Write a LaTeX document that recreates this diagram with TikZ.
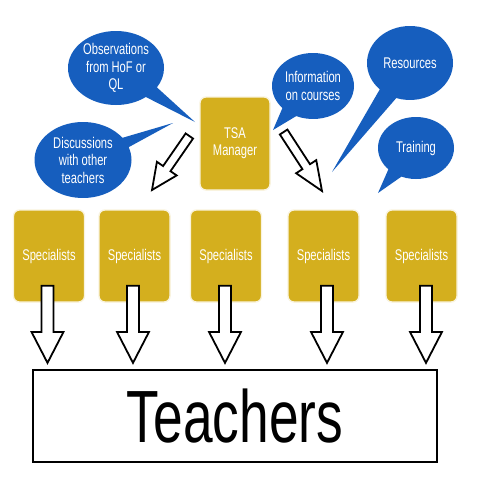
\documentclass[tikz,border=0pt]{standalone}
\usepackage{fontspec}
\setmainfont{Liberation Sans}
\newfontfamily\nar[FakeStretch=0.72]{Liberation Sans}
\usetikzlibrary{calc,shapes.callouts}
\definecolor{gold}{RGB}{212,175,30}
\definecolor{bblue}{RGB}{22,94,190}
\newcommand\blockarrow[5]{%
  \coordinate (ba-h) at ($(#2)!#5!(#1)$);
  \draw[blockarr] ($(#1)!#3!90:(#2)$) -- ($(ba-h)!#3!90:(#2)$) -- ($(ba-h)!#4!90:(#2)$) -- (#2)
     -- ($(ba-h)!#4!-90:(#2)$) -- ($(ba-h)!#3!-90:(#2)$) -- ($(#1)!#3!-90:(#2)$) -- cycle;}
\begin{document}
\begin{tikzpicture}[x=1pt,y=-1pt,
  goldbox/.style={draw=gold!15!white, line width=1.3pt, fill=gold, rounded corners=6pt,
    text=white, font=\nar\fontsize{15.5}{17}\selectfont, align=center, inner sep=0pt},
  specbox/.style={goldbox, minimum width=71pt, minimum height=92pt},
  bubble/.style={ellipse callout, fill=bblue, text=white,
    font=\nar\fontsize{15.5}{17.5}\selectfont, align=center, inner sep=0pt,
    callout pointer arc=22},
  blockarr/.style={draw=black, fill=white, line width=1.8pt, line join=miter},
  bigbox/.style={draw=black, line width=2.2pt, fill=white, minimum width=404pt,
    minimum height=92pt, inner sep=0pt, font=\nar\fontsize{74}{74}\selectfont}]
\useasboundingbox (0,0) rectangle (480,480);
\fill[white] (0,0) rectangle (480,480);

% speech bubbles
\node[bubble, minimum width=96pt, minimum height=74pt, callout pointer arc=20,
  callout absolute pointer={(195,122)}] (obs) at (116,68) {Observations\\from HoF or\\QL};
\node[bubble, minimum width=97pt, minimum height=76pt, callout pointer arc=16,
  callout absolute pointer={(173,123)}] (disc) at (83,160) {Discussions\\with other\\teachers};
\node[bubble, minimum width=82pt, minimum height=66pt, callout pointer arc=24,
  callout absolute pointer={(273,130)}] (info) at (313,86) {Information\\on courses};
\node[bubble, minimum width=86pt, minimum height=74pt, callout pointer arc=26,
  callout absolute pointer={(332,172)}] (res) at (410,63) {Resources};
\node[bubble, minimum width=76pt, minimum height=62pt, callout pointer arc=24,
  callout absolute pointer={(378,193)}] (train) at (416,148) {Training};

% boxes
\node[goldbox, minimum width=70pt, minimum height=93pt] (tsa) at (235,143.5) {TSA\\Manager};
\node[specbox] (s1) at (49,256) {Specialists};
\node[specbox] (s2) at (134.5,256) {Specialists};
\node[specbox] (s3) at (226,256) {Specialists};
\node[specbox] (s4) at (323.5,256) {Specialists};
\node[specbox] (s5) at (421.5,256) {Specialists};
\node[bigbox] (teachers) at (235,416) {Teachers};

% diagonal arrows from the manager
\coordinate (la) at ($(tsa.west)+(-10,-7.5)$);
\coordinate (lb) at (152,190);
\blockarrow{la}{lb}{4.5pt}{12pt}{26pt}
\coordinate (ra) at ($(tsa.east)+(13,-11.5)$);
\coordinate (rb) at (322,191);
\blockarrow{ra}{rb}{4.5pt}{12pt}{29pt}

% down arrows
\foreach \s/\dx in {s1/-1.5, s2/-1.5, s3/-1, s4/3.5, s5/4.5}{
  \coordinate (\s-t) at ($(\s.south)+(\dx,-17)$);
  \coordinate (\s-h) at ($(\s-t |- teachers.north)+(0,-6)$);
  \blockarrow{\s-t}{\s-h}{6pt}{16pt}{31pt}
}
\end{tikzpicture}
\end{document}
